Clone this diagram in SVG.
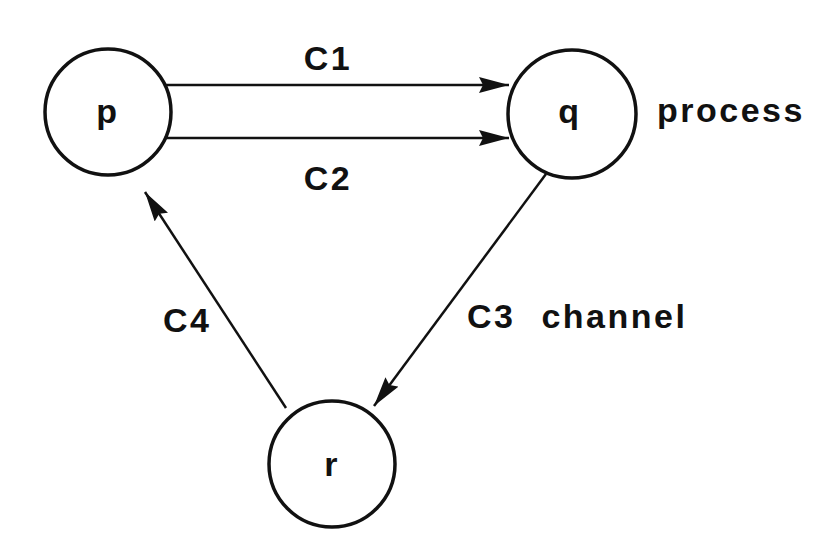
<svg xmlns="http://www.w3.org/2000/svg" width="840" height="543" viewBox="0 0 840 543">
<style>
.n{fill:none;stroke:#111;stroke-width:3.5}
.t{font-family:"Liberation Sans",Arial,sans-serif;font-weight:bold;font-size:34px;letter-spacing:2.5px;fill:#111}
.e{stroke:#111;stroke-width:2.5;fill:none;marker-end:url(#a)}
</style>
<defs><marker id="a" viewBox="0 0 30 16" refX="30" refY="8" markerWidth="30" markerHeight="16" markerUnits="userSpaceOnUse" orient="auto"><path d="M0,0L30,8L0,16L4,8z" fill="#111"/></marker></defs>
<rect width="840" height="543" fill="#fff"/>
<g id="p"><circle class="n" cx="108" cy="112" r="63"/><text class="t" x="108" y="123" text-anchor="middle">p</text></g>
<g id="q"><circle class="n" cx="572" cy="114" r="64"/><text class="t" x="570" y="123" text-anchor="middle">q</text><text class="t" x="657" y="122">process</text></g>
<g id="r"><circle class="n" cx="332" cy="464" r="63"/><text class="t" x="332" y="476" text-anchor="middle">r</text></g>
<g id="edges">
<line class="e" x1="164" y1="85" x2="509" y2="85"/>
<line class="e" x1="164" y1="138" x2="509" y2="138"/>
<line class="e" x1="546" y1="174" x2="374" y2="406"/>
<line class="e" x1="286" y1="408" x2="145" y2="192"/>
<text class="t" x="328" y="70" text-anchor="middle">C1</text>
<text class="t" x="328" y="190" text-anchor="middle">C2</text>
<text class="t" x="467" y="328" word-spacing="14">C3 channel</text>
<text class="t" x="163" y="332">C4</text>
</g>
</svg>
